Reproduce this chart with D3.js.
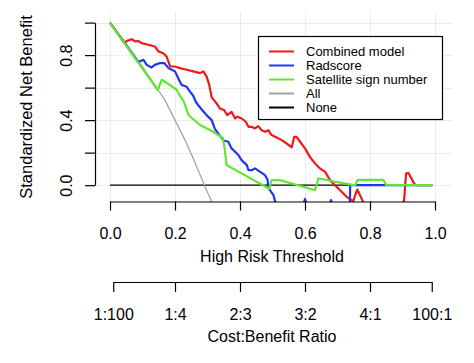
<!DOCTYPE html>
<html>
<head>
<meta charset="utf-8">
<script src="https://cdn.jsdelivr.net/npm/d3@7"></script>
<style>
  html, body { margin: 0; padding: 0; background: #fff; }
  svg { display: block; font-family: "Liberation Sans", Arial, sans-serif; }
</style>
</head>
<body>
<svg id="chart" width="474" height="363"></svg>
<script>
// ---------- data ----------
const seriesNames = ["Combined model", "Radscore", "Satellite sign number", "All", "None"];
const seriesColors = ["#f01818", "#1f36f5", "#62e432", "#a0a0a0", "#000000"];

const combinedModel = [
  [0,1],[0.044,0.877],[0.055,0.89],[0.067,0.898],[0.077,0.884],[0.087,0.888],[0.097,0.874],
  [0.118,0.864],[0.138,0.853],[0.149,0.823],[0.164,0.812],[0.174,0.792],[0.185,0.73],[0.2,0.73],
  [0.215,0.72],[0.236,0.71],[0.256,0.70],[0.277,0.689],[0.287,0.70],[0.297,0.669],[0.305,0.62],
  [0.313,0.54],[0.328,0.503],[0.338,0.472],[0.351,0.462],[0.361,0.431],[0.374,0.451],[0.385,0.41],
  [0.392,0.421],[0.405,0.41],[0.418,0.39],[0.426,0.359],[0.436,0.359],[0.446,0.349],[0.456,0.363],
  [0.467,0.338],[0.477,0.328],[0.487,0.338],[0.497,0.308],[0.513,0.293],[0.528,0.277],[0.544,0.256],
  [0.559,0.232],[0.567,0.297],[0.574,0.297],[0.585,0.267],[0.6,0.226],[0.615,0.174],[0.631,0.133],
  [0.646,0.103],[0.662,0.082],[0.677,0.031],[0.692,0.0],[0.708,-0.031],[0.728,-0.072],[0.749,-0.098],
  [0.754,-0.062],[0.761,-0.027],[0.779,-0.103],[0.79,-0.13],[0.9,-0.13],[0.905,-0.09],[0.911,0.072],
  [0.918,0.076],[0.935,0.014],[0.94,0],[0.99,0]
];
const radscore = [
  [0,1],[0.087,0.757],[0.103,0.771],[0.113,0.74],[0.128,0.724],[0.138,0.74],[0.154,0.751],[0.167,0.751],
  [0.18,0.72],[0.19,0.71],[0.2,0.70],[0.21,0.658],[0.22,0.617],[0.236,0.605],[0.246,0.575],[0.256,0.55],
  [0.264,0.513],[0.274,0.485],[0.287,0.455],[0.297,0.431],[0.313,0.4],[0.323,0.345],[0.338,0.305],
  [0.349,0.275],[0.364,0.267],[0.374,0.226],[0.385,0.205],[0.395,0.185],[0.405,0.154],[0.421,0.123],
  [0.426,0.092],[0.436,0.092],[0.446,0.103],[0.462,0.082],[0.477,0.062],[0.485,0.031],[0.487,-0.01],
  [0.492,-0.031],[0.503,-0.062],[0.508,-0.1],[0.512,-0.12],[0.595,-0.12],[0.6,-0.085],[0.605,-0.12],
  [0.675,-0.12],[0.68,-0.092],[0.685,-0.12],[0.738,-0.12],[0.739,0],[0.99,0]
];
const satelliteSign = [
  [0,1],[0.147,0.585],[0.159,0.648],[0.17,0.635],[0.205,0.587],[0.215,0.55],[0.226,0.52],[0.242,0.43],
  [0.277,0.37],[0.318,0.328],[0.347,0.29],[0.352,0.236],[0.359,0.123],[0.49,-0.022],[0.497,0.03],
  [0.523,0.031],[0.631,-0.031],[0.641,0.041],[0.672,0.031],[0.692,0.021],[0.738,0.005],[0.745,0],
  [0.755,0],[0.762,0.033],[0.841,0.033],[0.85,0],[0.994,0]
];
const treatAll = [
  [0,1],[0.05,0.87],[0.1,0.73],[0.15,0.58],[0.169,0.523],[0.2,0.4],[0.231,0.277],[0.256,0.164],
  [0.282,0.041],[0.297,-0.031],[0.313,-0.1],[0.32,-0.14]
];
const treatNone = [[0,0],[0.994,0]];

const xTicks = [0, 0.2, 0.4, 0.6, 0.8, 1.0];
const xTickLabels = ["0.0", "0.2", "0.4", "0.6", "0.8", "1.0"];
const yTicks = [0, 0.2, 0.4, 0.6, 0.8, 1.0];
const yTickLabels = ["0.0", "", "0.4", "", "0.8", ""];
const costTicks = [0.01, 0.2, 0.4, 0.6, 0.8, 0.99];
const costTickLabels = ["1:100", "1:4", "2:3", "3:2", "4:1", "100:1"];

// ---------- layout ----------
const svg = d3.select("#chart");
const x = d3.scaleLinear().domain([0, 1]).range([110, 435]);
const y = d3.scaleLinear().domain([-0.1, 1]).range([201.4, 22.6]);
const axisY0 = 201.5;

// grid
const grid = svg.append("g").attr("stroke", "#ececec").attr("stroke-width", 1);
xTicks.forEach(t => grid.append("line")
  .attr("x1", Math.round(x(t)) + 0.5).attr("x2", Math.round(x(t)) + 0.5)
  .attr("y1", 12).attr("y2", axisY0));
yTicks.forEach(t => grid.append("line")
  .attr("x1", 96).attr("x2", 452)
  .attr("y1", Math.round(y(t)) + 0.5).attr("y2", Math.round(y(t)) + 0.5));

// clip
svg.append("clipPath").attr("id", "clip").append("rect")
  .attr("x", 96).attr("y", 10).attr("width", 360).attr("height", axisY0 - 10 + 0.5);

const line = d3.line().x(d => x(d[0])).y(d => y(d[1]));
const plot = svg.append("g").attr("clip-path", "url(#clip)").attr("fill", "none");

plot.append("path").datum(treatNone).attr("d", line).attr("stroke", seriesColors[4]).attr("stroke-width", 1.2);
plot.append("path").datum(treatAll).attr("d", line).attr("stroke", seriesColors[3]).attr("stroke-width", 1.2);
plot.append("path").datum(combinedModel).attr("d", line).attr("stroke", seriesColors[0]).attr("stroke-width", 2.2).attr("stroke-linejoin", "round");
plot.append("path").datum(radscore).attr("d", line).attr("stroke", seriesColors[1]).attr("stroke-width", 2.2).attr("stroke-linejoin", "round");
plot.append("path").datum(satelliteSign).attr("d", line).attr("stroke", seriesColors[2]).attr("stroke-width", 2.2).attr("stroke-linejoin", "round");

// axes
const fs = 16;
function styleAxis(g) {
  g.selectAll("path.domain").attr("stroke", "#000").attr("stroke-width", 1.2);
  g.selectAll(".tick line").attr("stroke", "#000").attr("stroke-width", 1.2);
  g.selectAll(".tick text").attr("fill", "#000").attr("font-size", fs).attr("font-family", "Liberation Sans, Arial, sans-serif");
}

const xAxis = svg.append("g").attr("transform", `translate(0,${axisY0})`)
  .call(d3.axisBottom(x).tickValues(xTicks).tickFormat((d, i) => xTickLabels[i]).tickSize(9).tickSizeOuter(0));
styleAxis(xAxis);
xAxis.selectAll(".tick text").attr("dy", 0).attr("y", 37);

const yAx = d3.scaleLinear().domain([0, 1]).range([y(0), y(1)]);
const yAxis = svg.append("g").attr("transform", "translate(95,0)")
  .call(d3.axisLeft(yAx).tickValues(yTicks).tickFormat((d, i) => yTickLabels[i]).tickSize(10).tickSizeOuter(0));
styleAxis(yAxis);
yAxis.selectAll(".tick text")
  .attr("x", 0).attr("dy", 0)
  .attr("text-anchor", "middle")
  .attr("transform", "translate(-23,0) rotate(-90)");

const xc = d3.scaleLinear().domain([0.01, 0.99]).range([x(0.01), x(0.99)]);
const costAxis = svg.append("g").attr("transform", "translate(0,282)")
  .call(d3.axisBottom(xc).tickValues(costTicks).tickFormat((d, i) => costTickLabels[i]).tickSize(10).tickSizeOuter(0));
styleAxis(costAxis);
costAxis.selectAll(".tick text").attr("dy", 0).attr("y", 38);

// axis titles
svg.append("text").attr("x", 272).attr("y", 262).attr("text-anchor", "middle")
  .attr("font-size", fs).text("High Risk Threshold");
svg.append("text").attr("x", 272).attr("y", 342).attr("text-anchor", "middle")
  .attr("font-size", fs).text("Cost:Benefit Ratio");
svg.append("text").attr("transform", "translate(32,107) rotate(-90)").attr("text-anchor", "middle")
  .attr("font-size", 16.5).text("Standardized Net Benefit");

// legend
const lg = svg.append("g");
lg.append("rect").attr("x", 258.5).attr("y", 36.5).attr("width", 184).attr("height", 83)
  .attr("fill", "#fff").attr("stroke", "#000").attr("stroke-width", 1.2);
seriesNames.forEach((name, i) => {
  const yy = 51.5 + i * 14;
  lg.append("line").attr("x1", 269).attr("x2", 294).attr("y1", yy).attr("y2", yy)
    .attr("stroke", seriesColors[i]).attr("stroke-width", 2);
  lg.append("text").attr("x", 306).attr("y", yy + 4.8).attr("font-size", 13)
    .attr("textLength", null).text(name);
});
</script>
</body>
</html>
